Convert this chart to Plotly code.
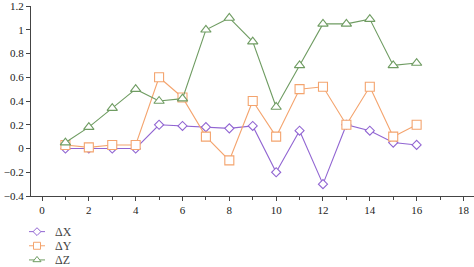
import plotly.graph_objects as go

x = list(range(1, 17))
dx = [0, 0, 0, 0, 0.2, 0.19, 0.18, 0.17, 0.19, -0.2, 0.15, -0.3, 0.2, 0.15, 0.05, 0.03]
dy = [0.03, 0.01, 0.03, 0.03, 0.6, 0.43, 0.1, -0.1, 0.4, 0.1, 0.5, 0.52, 0.2, 0.52, 0.1, 0.2]
dz = [0.05, 0.18, 0.34, 0.5, 0.4, 0.42, 1.0, 1.1, 0.9, 0.35, 0.7, 1.05, 1.05, 1.09, 0.7, 0.72]
names = ["ΔX", "ΔY", "ΔZ"]
colors = ["#9165d2", "#f4a46e", "#6f9c62"]
symbols = ["diamond", "square", "triangle-up"]
sizes = [7, 9, 9]
legend_sizes = [6, 7, 7]

W, H = 474, 267
top, bottom, left = 6, 196, 31
fig = go.Figure()
for vals, n, c, s, sz in zip([dx, dy, dz], names, colors, symbols, sizes):
    fig.add_trace(go.Scatter(x=x, y=vals, name=n, mode="lines+markers", showlegend=False,
                             line=dict(color=c, width=1.1),
                             marker=dict(symbol=s, size=sz, color="white", line=dict(width=1.1, color=c))))

# manual legend drawn on a pixel-scaled helper axis
leg_y = [232, 246, 260]
for ly, n, c, s, sz in zip(leg_y, names, colors, symbols, legend_sizes):
    fig.add_trace(go.Scatter(x=[29, 45], y=[ly, ly], mode="lines", xaxis="x2", yaxis="y2",
                             showlegend=False, hoverinfo="skip", line=dict(color=c, width=1)))
    fig.add_trace(go.Scatter(x=[37], y=[ly], mode="markers", xaxis="x2", yaxis="y2",
                             showlegend=False, hoverinfo="skip", cliponaxis=False,
                             marker=dict(symbol=s, size=sz, color="white", line=dict(width=1, color=c))))
    fig.add_annotation(x=53, y=ly, xref="x2", yref="y2", text=n, showarrow=False,
                       xanchor="left", yanchor="middle",
                       font=dict(family="Liberation Serif", size=12, color="#444"))

font = dict(family="Liberation Serif", size=11, color="#222")
plot_h = H - top
ydom0 = (H - bottom) / plot_h
fig.update_layout(
    width=W, height=H,
    margin=dict(l=0, r=0, t=top, b=0, autoexpand=False),
    plot_bgcolor="white", paper_bgcolor="white",
    font=font,
    showlegend=False,
    xaxis=dict(domain=[left / W, 1], anchor="y", range=[-0.47, 18.45], tickvals=list(range(0, 19, 2)),
               showgrid=False, zeroline=False,
               showline=True, linecolor="#444", linewidth=1, ticks="outside", ticklen=4, tickcolor="#444",
               minor=dict(tickvals=list(range(1, 19, 2)), ticks="outside", ticklen=3, tickcolor="#444"),
               tickfont=font, ticklabeloverflow="allow"),
    yaxis=dict(domain=[ydom0, 1], anchor="x", range=[-0.4, 1.2005],
               tickvals=[-0.4, -0.2, 0, 0.2, 0.4, 0.6, 0.8, 1, 1.2],
               ticktext=["−0.4", "−0.2", "0", "0.2", "0.4", "0.6", "0.8", "1", "1.2"],
               showgrid=False, zeroline=False, showline=True, linecolor="#444", linewidth=1,
               ticks="outside", ticklen=4, tickcolor="#444", tickfont=font, ticklabeloverflow="allow"),
    xaxis2=dict(domain=[0, 1], anchor="y2", range=[0, W], visible=False, fixedrange=True),
    yaxis2=dict(domain=[0, ydom0 - 0.001], anchor="x2", range=[H, bottom + 1], visible=False, fixedrange=True),
)
fig.write_html("out.html")
